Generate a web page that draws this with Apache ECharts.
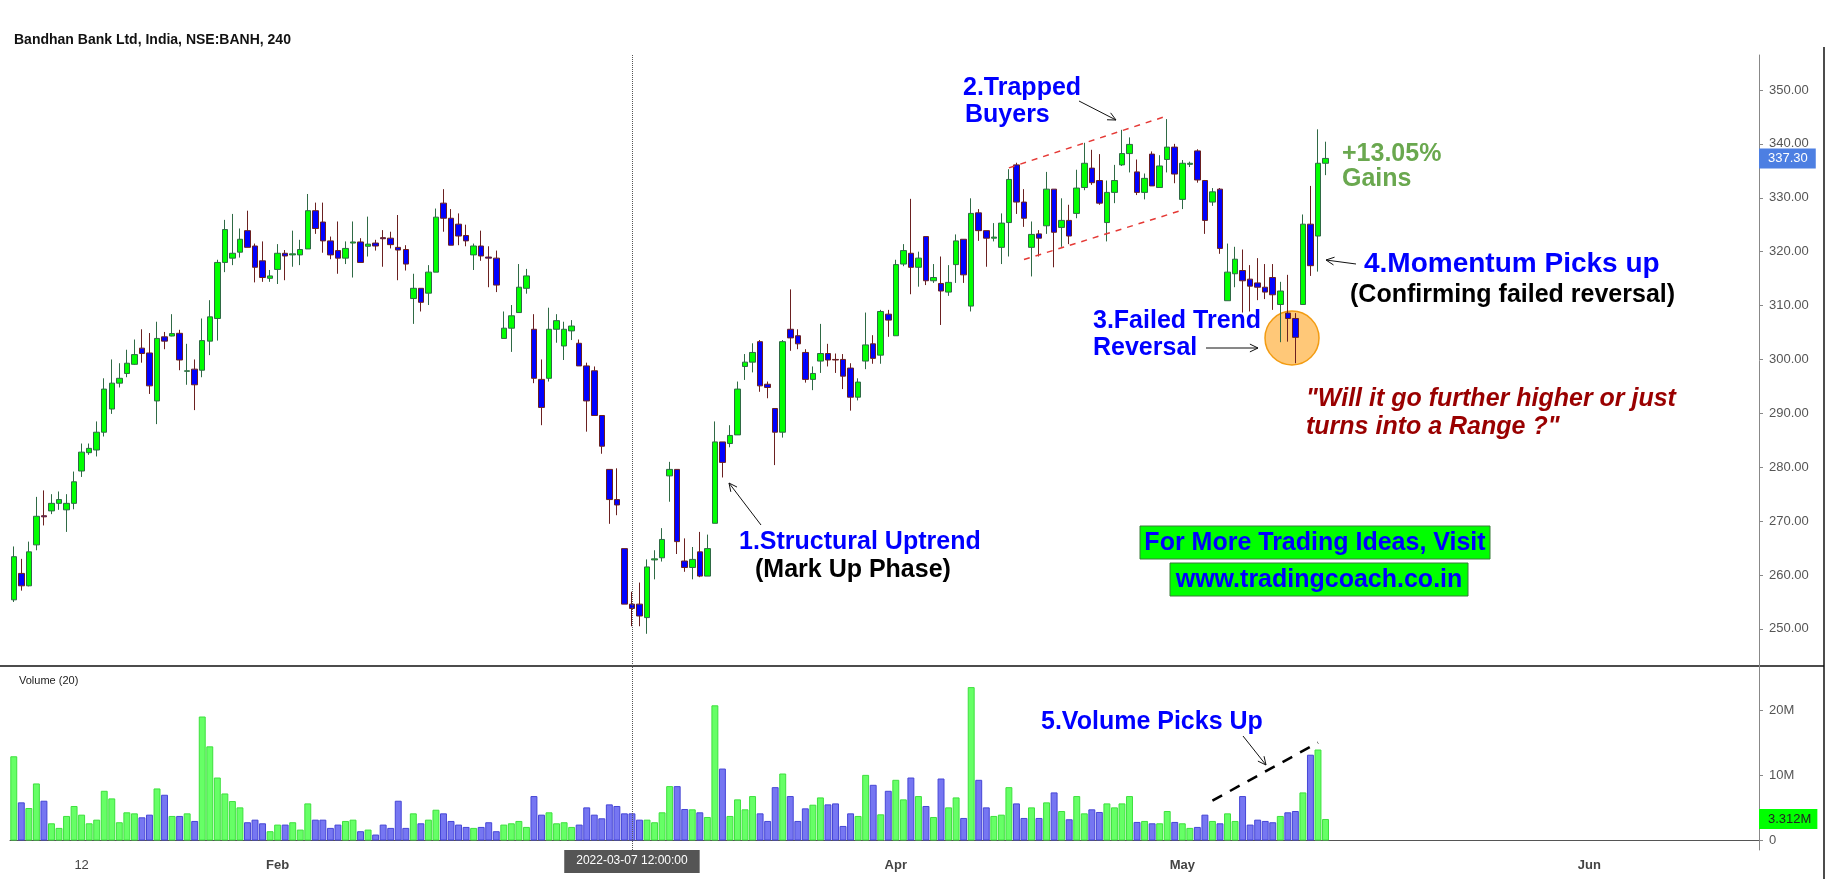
<!DOCTYPE html>
<html>
<head>
<meta charset="utf-8">
<title>Bandhan Bank Ltd, India, NSE:BANH, 240</title>
<script src="https://cdn.jsdelivr.net/npm/echarts@6/dist/echarts.min.js"></script>
<style>
  html, body { margin: 0; padding: 0; background: #fff; }
  #chart { width: 1833px; height: 879px; }
</style>
</head>
<body>
<div id="chart"></div>
<script>
// 4h candles (175 bars, Jan -> mid May 2022)
var opens = [
  255.4,260.3,258.0,265.6,271.0,271.9,273.3,272.1,273.3,279.3,
  282.7,283.2,286.5,290.8,295.6,297.4,299.1,302.1,301.2,292.3,
  304.2,304.35,304.85,297.8,298.2,298.0,303.4,307.6,318.0,318.8,
  319.9,323.9,321.05,318.3,315.05,316.7,319.7,319.4,319.4,320.5,
  327.6,325.5,322.0,320.2,318.8,321.6,321.8,321.0,321.6,322.6,
  322.5,320.8,320.4,311.3,313.2,312.3,316.2,329.0,326.2,325.1,
  323.0,319.4,321.05,319.0,318.8,303.9,305.8,308.7,313.2,305.6,
  296.3,296.5,305.6,302.5,305.3,303.0,298.8,297.9,289.6,279.6,
  274.0,264.9,254.6,254.6,252.1,262.8,263.2,278.4,279.6,262.6,
  261.4,264.3,259.8,269.6,284.7,284.4,286.0,298.7,299.5,303.3,
  295.4,290.9,286.5,305.6,304.4,301.3,296.3,299.7,301.1,300.0,
  300.0,298.4,293.0,299.7,302.9,300.8,308.4,304.4,317.7,319.7,
  317.1,322.8,314.6,314.1,312.5,317.6,322.3,309.9,327.2,323.9,
  322.5,320.8,325.4,336.1,329.2,320.8,323.3,324.8,331.6,324.5,
  325.8,327.1,331.9,335.5,333.2,325.4,331.0,336.1,338.2,334.8,
  331.0,338.1,331.9,337.1,339.4,329.7,336.2,338.7,333.2,329.2,
  331.6,310.9,315.9,316.5,314.9,314.2,313.4,315.2,310.2,308.6,
  307.6,310.2,325.1,322.9,336.4
];
var closes = [
  263.4,258.0,264.3,270.9,270.8,273.3,274.0,273.3,277.3,282.8,
  283.5,286.5,294.5,295.6,296.5,299.3,300.9,301.1,295.1,303.9,
  303.4,304.8,299.9,297.9,295.3,303.5,307.9,318.0,324.1,319.7,
  322.3,320.8,317.1,315.2,315.5,319.7,319.2,319.6,320.4,327.6,
  324.3,322.0,319.4,318.8,320.6,321.8,318.0,321.4,321.05,322.4,
  321.3,320.3,317.7,313.2,310.6,316.2,326.4,326.2,321.2,322.9,
  322.0,321.05,319.2,318.8,313.8,305.8,308.1,313.4,315.5,296.5,
  291.1,305.6,307.2,305.6,306.2,298.8,292.3,289.6,283.9,274.0,
  273.0,254.6,253.8,252.4,261.5,263.0,266.6,279.6,266.2,261.4,
  262.9,259.8,264.9,284.7,280.9,285.9,294.5,299.5,301.3,295.1,
  294.8,286.5,303.3,304.0,302.9,296.3,297.4,301.1,299.9,299.9,
  296.9,293.0,295.8,302.7,300.2,308.9,307.3,317.6,320.2,317.1,
  318.8,314.6,315.2,312.7,314.3,322.0,315.7,327.1,323.9,322.5,
  322.7,325.3,333.4,329.2,326.2,323.2,322.5,331.6,323.6,325.8,
  322.9,331.8,336.4,332.8,329.0,331.0,333.2,338.2,339.9,331.0,
  333.6,332.2,335.9,339.4,334.4,336.4,336.4,333.3,325.8,331.1,
  320.6,316.2,318.6,314.6,313.6,313.4,312.5,312.0,312.7,307.6,
  304.1,325.1,317.4,336.4,337.3
];
var lows = [
  255.0,257.1,257.9,264.6,269.2,271.3,272.1,268.0,272.2,278.2,
  282.3,282.0,285.7,289.9,294.8,296.7,299.0,299.4,293.6,288.0,
  301.9,304.3,298.0,295.3,290.6,296.7,300.8,303.5,316.2,317.5,
  318.9,320.8,314.3,314.4,314.4,314.0,314.7,317.2,317.5,320.5,
  323.3,319.8,318.6,315.9,317.7,315.2,318.0,319.1,320.2,317.2,
  320.6,314.7,316.5,306.6,308.9,310.1,316.2,323.7,321.2,321.2,
  321.0,316.6,318.3,313.4,312.5,303.9,301.4,308.7,312.2,295.6,
  287.8,295.9,303.1,299.9,303.6,298.8,286.6,289.6,282.5,269.5,
  271.1,254.6,250.5,250.5,249.1,259.2,262.5,273.6,263.9,260.6,
  259.2,259.6,259.8,269.6,278.1,283.7,286.0,296.2,297.6,294.0,
  292.8,280.4,285.5,301.6,301.9,295.7,294.3,297.5,298.7,297.5,
  294.5,290.5,292.4,298.2,299.2,299.2,304.2,304.4,317.3,312.1,
  313.5,313.8,314.2,306.4,311.8,314.2,314.2,308.9,322.0,317.2,
  321.9,317.7,319.1,327.0,324.6,315.4,319.1,323.3,317.1,320.9,
  321.4,326.2,331.4,332.4,328.7,321.9,329.0,335.9,334.7,330.5,
  329.7,332.2,331.9,334.7,332.7,327.9,335.7,332.8,323.3,328.5,
  319.6,310.9,313.4,308.7,308.9,311.0,311.2,309.2,303.2,303.3,
  299.3,310.2,315.5,316.3,334.2
];
var highs = [
  265.3,263.0,266.2,274.5,275.7,275.0,275.5,275.0,279.2,284.4,
  284.4,288.5,296.5,300.0,299.3,301.8,303.7,305.6,304.9,307.0,
  305.1,308.4,305.5,302.9,300.0,307.6,311.0,318.5,325.9,327.0,
  324.3,327.6,321.5,321.9,316.6,321.4,320.3,323.9,322.2,330.7,
  329.1,329.1,322.8,325.6,321.9,325.6,322.5,326.5,322.2,324.0,
  323.7,326.8,321.2,315.9,313.2,317.5,328.0,331.6,327.9,327.1,
  325.0,321.5,323.9,321.0,320.2,308.9,310.1,317.7,316.8,308.4,
  300.0,309.6,308.4,307.0,307.3,303.7,299.4,298.7,289.6,279.6,
  279.8,264.9,256.9,258.6,262.9,264.6,268.7,281.0,279.6,266.8,
  265.2,268.0,267.5,288.5,284.7,287.8,295.9,301.0,303.0,303.6,
  295.9,290.9,303.6,313.0,305.6,301.9,298.7,306.6,302.9,301.1,
  301.0,299.3,296.5,308.7,304.5,309.2,309.2,318.5,321.4,329.8,
  320.0,322.8,317.7,319.1,317.5,323.2,322.3,329.9,327.9,323.9,
  325.3,327.1,335.3,336.5,331.6,325.6,324.0,334.8,331.6,329.9,
  328.7,335.2,340.2,338.9,338.1,333.2,336.1,342.6,341.2,337.1,
  334.5,338.6,337.9,344.6,340.0,337.0,336.7,339.0,333.3,331.8,
  331.8,321.5,320.9,320.4,317.5,318.8,317.7,317.7,314.4,315.7,
  308.6,326.9,332.2,342.7,340.4
];
// volume in millions
var volumes = [
  12.96,5.87,5.0,8.78,6.12,2.65,1.94,3.78,5.31,3.98,
  2.65,3.21,7.65,6.48,2.81,4.34,4.18,3.57,3.98,8.01,
  7.04,3.78,3.78,4.18,3.01,19.08,14.49,9.69,7.24,6.07,
  5.10,2.81,3.21,2.65,1.43,2.45,2.45,2.81,1.68,5.71,
  3.21,3.21,1.94,2.45,3.01,3.21,1.43,1.68,0.92,2.45,
  1.94,6.12,1.94,4.18,2.65,3.21,4.74,4.18,3.01,2.45,
  2.09,1.94,2.09,2.81,1.43,2.45,2.65,3.01,2.09,6.84,
  3.98,4.34,2.65,2.81,2.09,2.45,5.10,3.98,3.42,5.56,
  5.31,4.18,4.18,3.21,3.21,2.81,4.34,8.37,8.37,4.85,
  4.80,4.34,3.62,20.8,11.07,3.78,6.33,4.80,6.84,4.18,
  3.01,8.21,10.31,6.84,3.01,4.95,5.51,6.63,5.56,5.71,
  2.24,4.18,3.78,10.1,8.57,4.03,7.65,9.34,6.33,9.69,
  6.84,5.31,3.62,9.54,5.10,6.63,3.47,23.6,9.34,5.10,
  3.78,3.98,8.21,5.71,3.47,5.10,3.47,5.87,7.40,4.54,
  3.27,6.84,4.18,4.80,4.39,5.71,5.10,5.71,6.84,2.86,
  3.01,2.65,2.65,4.54,2.86,2.65,1.94,2.09,3.98,3.01,
  2.65,4.18,3.01,6.84,2.45,3.21,3.01,2.81,3.78,4.34,
  4.54,7.40,13.2,14.0,3.312
];

var slotCount = 232;               // bars plus empty space on the right
var tickIdx = [9, 22, 35, 49, 62, 82, 103, 117, 131, 155, 169, 182, 195, 209, 224];
var labelIdx = [9, 35, 117, 155, 209];
var labelText = ['12', 'Feb', 'Apr', 'May', 'Jun'];
var priceTicks = [250, 260, 270, 280, 290, 300, 310, 320, 330, 340, 350];
var volumeTicks = [0, 10, 20];
var lastPrice = 337.30;
var lastVolume = 3.312;
var cursorIdx = 82;
var cursorLabel = '2022-03-07 12:00:00';
// hand drawn trend lines (bar index, value)
var channelTop = [[132, 335.55], [153, 345.2]];
var channelBottom = [[134, 318.54], [155, 327.7]];
var volumeTrend = [[159, 6.14], [173, 15.06]];

var categories = [];
for (var i = 0; i < slotCount; i++) categories.push(String(i));

var candleData = opens.map(function (o, i) {
  return [o, closes[i], lows[i], highs[i]];
});
var volumeData = volumes.map(function (v, i) {
  var up = closes[i] >= opens[i];
  return {
    value: v,
    itemStyle: up
      ? { color: '#66ff66', borderColor: '#3ee03e' }
      : { color: '#7676f2', borderColor: '#4646d6' }
  };
});

var FONT = '"Liberation Sans", Arial, sans-serif';
var BLUE = '#0000ff';
var HIDDEN = 'rgba(0,0,0,0)';

function note(text, x, y, color, extra) {
  return {
    type: 'text', z: 100,
    style: Object.assign({
      text: text, x: x, y: y, fill: color,
      font: 'bold 25px ' + FONT, verticalAlign: 'middle'
    }, extra || {})
  };
}
function arrow(x1, y1, x2, y2) {
  var a = Math.atan2(y2 - y1, x2 - x1), h = 9, s = 0.45;
  return {
    type: 'group', z: 100,
    children: [
      { type: 'line', shape: { x1: x1, y1: y1, x2: x2, y2: y2 }, style: { stroke: '#111', lineWidth: 1 } },
      { type: 'polyline', shape: { points: [
          [x2 - h * Math.cos(a - s), y2 - h * Math.sin(a - s)], [x2, y2],
          [x2 - h * Math.cos(a + s), y2 - h * Math.sin(a + s)]] },
        style: { stroke: '#111', fill: null, lineWidth: 1 } }
    ]
  };
}

var chart = echarts.init(document.getElementById('chart'));
chart.setOption({
  animation: false,
  backgroundColor: '#fff',
  textStyle: { fontFamily: FONT },
  grid: [
    { left: 10, right: 74, top: 55, height: 611 },
    { left: 10, right: 74, top: 666, height: 184 }
  ],
  xAxis: [
    { type: 'category', gridIndex: 0, data: categories, show: false },
    {
      type: 'category', gridIndex: 1, data: categories,
      axisLine: { lineStyle: { color: '#555' } },
      axisTick: {
        alignWithLabel: true, length: 5, lineStyle: { color: '#555' },
        interval: function (i) { return tickIdx.indexOf(i) >= 0; }
      },
      axisLabel: {
        margin: 9, color: '#444', fontSize: 13,
        interval: function (i) { return labelIdx.indexOf(i) >= 0; },
        formatter: function (v) {
          var k = labelIdx.indexOf(Number(v));
          if (k < 0) return '';
          return k === 0 ? labelText[k] : '{m|' + labelText[k] + '}';
        },
        rich: { m: { fontWeight: 'bold', fontSize: 13, color: '#444' } }
      }
    }
  ],
  yAxis: [
    {
      type: 'value', gridIndex: 0, position: 'right', min: 243.12, max: 356.49,
      axisLine: { show: true, lineStyle: { color: '#888' } },
      axisTick: { show: true, length: 4, customValues: priceTicks, lineStyle: { color: '#888' } },
      axisLabel: {
        color: '#555', fontSize: 13, margin: 10, customValues: priceTicks,
        formatter: function (v) { return v.toFixed(2); }
      },
      splitLine: { show: false }
    },
    {
      type: 'value', gridIndex: 1, position: 'right', min: -1.46, max: 26.85,
      axisLine: { show: true, lineStyle: { color: '#888' } },
      axisTick: { show: true, length: 4, customValues: volumeTicks, lineStyle: { color: '#888' } },
      axisLabel: {
        color: '#555', fontSize: 13, margin: 10, customValues: volumeTicks,
        formatter: function (v) { return v === 0 ? '0' : v + 'M'; }
      },
      splitLine: { show: false }
    }
  ],
  series: [
    {
      name: 'BANH', type: 'candlestick', xAxisIndex: 0, yAxisIndex: 0,
      data: candleData, barWidth: 6,
      itemStyle: {
        color: '#00ff00', color0: '#0000ff',
        borderColor: '#2f6a45', borderColor0: '#6b2020', borderWidth: 1
      },
      markLine: {
        silent: true, symbol: ['none', 'none'],
        label: { show: false },
        data: [
          {
            yAxis: lastPrice, lineStyle: { color: HIDDEN },
            label: {
              show: true, position: 'end', distance: 0, formatter: lastPrice.toFixed(2),
              backgroundColor: '#4d7fe2', color: '#fff', fontSize: 13, padding: [4, 8, 3, 9]
            }
          },
          { xAxis: String(cursorIdx), lineStyle: { type: 'dotted', color: '#555', width: 1 } },
          [
            { coord: channelTop[0], lineStyle: { type: [6, 6], color: '#e53935', width: 1.5 } },
            { coord: channelTop[1] }
          ],
          [
            { coord: channelBottom[0], lineStyle: { type: [6, 6], color: '#e53935', width: 1.5 } },
            { coord: channelBottom[1] }
          ]
        ]
      }
    },
    {
      name: 'Volume', type: 'bar', xAxisIndex: 1, yAxisIndex: 1,
      data: volumeData, barWidth: '92%',
      itemStyle: { borderWidth: 1 },
      markLine: {
        silent: true, symbol: ['none', 'none'],
        label: { show: false },
        data: [
          {
            yAxis: lastVolume, lineStyle: { color: HIDDEN },
            label: {
              show: true, position: 'end', distance: 0, formatter: lastVolume + 'M',
              backgroundColor: '#00ff00', color: '#222', fontSize: 13, padding: [4, 6, 3, 9]
            }
          },
          {
            xAxis: String(cursorIdx), lineStyle: { type: 'dotted', color: '#555', width: 1 },
            label: {
              show: true, position: 'start', distance: 0, formatter: cursorLabel,
              backgroundColor: '#555', color: '#fff', fontSize: 12, padding: [5, 12, 6, 12]
            }
          },
          [
            { coord: volumeTrend[0], lineStyle: { type: [11, 9], color: '#000', width: 2.5 } },
            { coord: volumeTrend[1] }
          ]
        ]
      }
    }
  ],
  graphic: [
    { type: 'text', style: { text: 'Bandhan Bank Ltd, India, NSE:BANH, 240', x: 14, y: 40,
      fill: '#111', font: 'bold 14px ' + FONT, verticalAlign: 'middle' } },
    { type: 'text', style: { text: 'Volume (20)', x: 19, y: 681,
      fill: '#222', font: '11px ' + FONT, verticalAlign: 'middle' } },
    { type: 'line', shape: { x1: 0, y1: 666, x2: 1824, y2: 666 }, style: { stroke: '#111', lineWidth: 1.5 } },
    { type: 'line', shape: { x1: 1824, y1: 47, x2: 1824, y2: 879 }, style: { stroke: '#111', lineWidth: 1.5 } },
    { type: 'circle', z: 0, shape: { cx: 1292, cy: 338, r: 27 },
      style: { fill: '#ffc878', stroke: '#f39c12', lineWidth: 1.5 } },

    note('2.Trapped', 963, 88, BLUE),
    note('Buyers', 965, 115, BLUE),
    arrow(1079, 101, 1116, 120),
    note('+13.05%', 1342, 154, '#6aa84f'),
    note('Gains', 1342, 179, '#6aa84f'),
    note('4.Momentum Picks up', 1364, 264, BLUE, { font: 'bold 28px ' + FONT }),
    arrow(1356, 264, 1326, 260),
    note('(Confirming failed reversal)', 1350, 295, '#000'),
    note('3.Failed Trend', 1093, 321, BLUE),
    note('Reversal', 1093, 348, BLUE),
    arrow(1206, 348, 1258, 348),
    note('"Will it go further higher or just', 1306, 399, '#990000', { font: 'italic bold 25px ' + FONT }),
    note('turns into a Range ?"', 1306, 427, '#990000', { font: 'italic bold 25px ' + FONT }),
    note('1.Structural Uptrend', 739, 542, BLUE),
    note('(Mark Up Phase)', 755, 570, '#000'),
    arrow(761, 525, 729, 483),
    { type: 'rect', z: 90, shape: { x: 1140, y: 526, width: 350, height: 33 },
      style: { fill: '#00ff00', stroke: '#3a7d3a', lineWidth: 1 } },
    note('For More Trading Ideas, Visit', 1315, 543, BLUE, { align: 'center' }),
    { type: 'rect', z: 90, shape: { x: 1170, y: 563, width: 298, height: 33 },
      style: { fill: '#00ff00', stroke: '#3a7d3a', lineWidth: 1 } },
    note('www.tradingcoach.co.in', 1319, 580, BLUE, { align: 'center' }),
    note('5.Volume Picks Up', 1041, 722, BLUE),
    arrow(1243, 736, 1266, 765)
  ]
});
</script>
</body>
</html>
